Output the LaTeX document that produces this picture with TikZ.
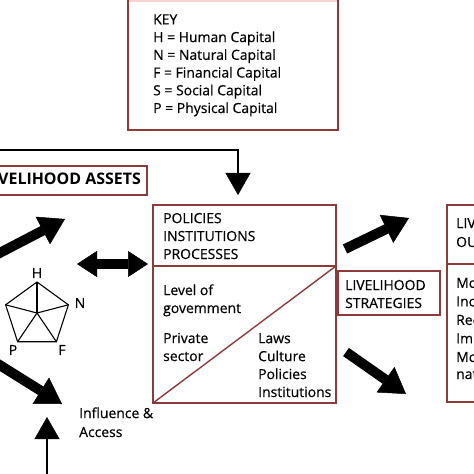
\documentclass[tikz,border=0pt]{standalone}
\usepackage{fontspec}
\setmainfont{Open Sans}[UprightFeatures={FakeBold=0.5}]
\usetikzlibrary{calc,arrows.meta,positioning}
\definecolor{boxred}{HTML}{8E3A3A}
\definecolor{keypink}{HTML}{F6D2D2}
\tikzset{
  frame/.style={draw=boxred,line width=1.4bp},
  txt/.style={anchor=base west,inner sep=0pt,align=left,font=\fontsize{14}{18}\selectfont},
  lbl/.style={inner sep=0pt,font=\fontsize{14}{16}\selectfont},
  bigar/.style={line width=10bp,-{Triangle[length=25bp,width=31bp,line width=0.5bp]}},
  dblar/.style={line width=10bp,{Triangle[length=20bp,width=26bp,line width=0.5bp]}-{Triangle[length=20bp,width=26bp,line width=0.5bp]}},
  thinar/.style={line width=1.2bp,-{Triangle[length=22bp,width=25bp,line width=0.5bp]}}
}
\begin{document}
\begin{tikzpicture}[x=1bp,y=-1bp]
\useasboundingbox (0,0) rectangle (474,474);
\clip (0,0) rectangle (474,474);
% key
\fill[keypink] (128,0) rectangle (338,2.5);
\draw[frame] (128,-2) rectangle (338,130);
\node[txt,font=\fontsize{14}{17.8}\selectfont] (key) at (153,113) {KEY\\H = Human Capital\\N = Natural Capital\\F = Financial Capital\\S = Social Capital\\P = Physical Capital};
% livelihood assets
\draw[frame] (-5,166) rectangle (147,195);
\node[txt,anchor=base east,font=\fontsize{16}{16}\bfseries] (assets) at (141,185) {LIVELIHOOD ASSETS};
% pentagon
\coordinate (pc) at (37,313);
\foreach \k/\a in {h/-90,n/-18,f/54,p/126,s/198}
  \coordinate (v\k) at ($(37,315)+(\a:33)$);
\draw[line width=1.1bp,line join=miter] (vh)--(vn)--(vf)--(vp)--(vs)--cycle;
\foreach \k in {h,n,f,p,s}
  \draw[line width=1.1bp] (pc)--(v\k);
\node[lbl] (lh) at (37,273) {H};
\node[lbl] (ln) at (80,303) {N};
\node[lbl] (lp) at (13,350) {P};
\node[lbl] (lf) at (62,350) {F};
\node[txt,font=\fontsize{14}{19}\selectfont] (infl) at (79,437) {Influence \&\\Access};
% policies, institutions, processes
\coordinate (pipnw) at (153,205);
\coordinate (pipse) at (336,403);
\coordinate (pipw) at (153,266);
\coordinate (pipe) at (336,266);
\draw[frame] (pipnw) rectangle (pipse);
\draw[frame] (pipw)--(pipe);
\draw[frame] (pipnw|-pipse)--(pipe);
\node[txt] (pip) at (163,259) {POLICIES\\INSTITUTIONS\\PROCESSES};
\node[txt] (level) at (163,313) {Level of\\govemment};
\node[txt] (priv) at (163,361) {Private\\sector};
\node[txt] (laws) at (258,397) {Laws\\Culture\\Policies\\Institutions};
% strategies
\draw[frame] (338,271) rectangle (440,315);
\node[txt] (strat) at (345,308) {LIVELIHOOD\\STRATEGIES};
% outcomes
\draw[frame] (447,205) rectangle (490,402);
\draw[frame] (447,264)--(490,264);
\node[txt,font=\fontsize{14}{19}\selectfont] (outc) at (456,247) {LIVELIHOOD\\OUTCOMES};
\node[txt,font=\fontsize{14}{18.6}\selectfont] (outl) at (456,379) {More income\\Increased well-being\\Reduced vulnerability\\Improved food security\\More sustainable use of\\[-1.5bp]natural resource base};
% arrows
\coordinate (a1s) at (-10,258);
\coordinate (a1e) at (65,219);
\coordinate (a2s) at (-10,359);
\coordinate (a2e) at (62,404);
\coordinate (a3s) at (345,249);
\coordinate (a3e) at (409,218);
\coordinate (a4s) at (346,352);
\coordinate (a4e) at (406,394);
\coordinate (d1) at (77,264);
\coordinate (d2) at (148,264);
\draw[bigar] (a1s)--(a1e);
\draw[bigar] (a2s)--(a2e);
\draw[bigar] (a3s)--(a3e);
\draw[bigar] (a4s)--(a4e);
\draw[dblar] (d1)--(d2);
\coordinate (feed) at (-5,150);
\coordinate (pipin) at (238,195);
\draw[thinar] (feed)-|(pipin);
\coordinate (ups) at (47,480);
\coordinate (upe) at (47,417);
\draw[thinar] (ups)--(upe);
\end{tikzpicture}
\end{document}
